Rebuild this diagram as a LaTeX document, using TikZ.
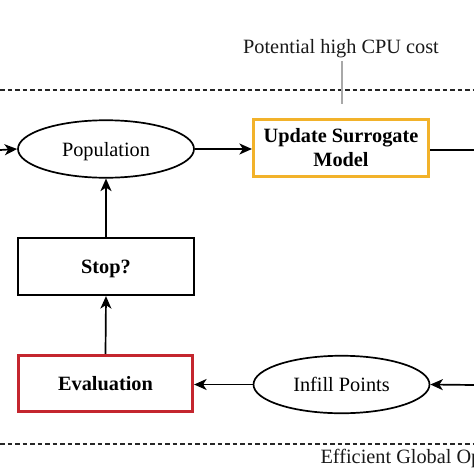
\documentclass[tikz,border=0pt]{standalone}
\usepackage{fontspec}
\setmainfont{Liberation Serif}
\usetikzlibrary{shapes.geometric,arrows.meta}
\definecolor{gold}{HTML}{F2B22A}
\definecolor{evred}{HTML}{C4262E}
\definecolor{tickgrey}{HTML}{A8A8A8}
\begin{document}
\begin{tikzpicture}[x=1pt,y=-1pt,
  every node/.style={font=\fontsize{20.3}{24}\selectfont},
  conn/.style={line width=1.7pt},
  arr/.style={conn,-{Stealth[length=12.5pt,width=11pt,inset=3.5pt]}},
  oneline/.style={text height=14pt,text depth=0pt},
  ell/.style={draw,ellipse,line width=1.7pt,inner sep=0pt,minimum width=176pt,minimum height=57.5pt,oneline},
  boxbase/.style={draw,rectangle,inner sep=0pt,align=center,font=\fontsize{20.3}{24}\selectfont\bfseries},
  plainbox/.style={boxbase,line width=1.7pt,minimum width=176.5pt,minimum height=57.5pt,oneline},
  goldbox/.style={boxbase,draw=gold,line width=3.2pt,minimum width=175pt,minimum height=57pt},
  redbox/.style={boxbase,draw=evred,line width=3.2pt,minimum width=174pt,minimum height=56pt,oneline},
  dash line/.style={line width=1.3pt,dash pattern=on 4.5pt off 3pt,draw=black!85},
]
\useasboundingbox (0,0) rectangle (474,474);
\clip (0,0) rectangle (474,474);

% dashed boundaries
\coordinate (d1l) at (0,90);
\coordinate (d1r) at (474,90);
\coordinate (d2l) at (0,444);
\coordinate (d2r) at (474,444);
\draw[dash line] (d1l) -- (d1r);
\draw[dash line] (d2l) -- (d2r);

% labels
\node[anchor=base,text=black!90] (cpu) at (341,53) {Potential high CPU cost};
\coordinate (cputick) at (342,104);
\draw[draw=tickgrey,line width=1.4pt] (342,61) -- (cputick);
\node[anchor=base west,text=black!90] (ego) at (317,463) {Efficient Global Optimization};

% nodes
\node[ell] (pop) at (106,149) {Population};
\node[goldbox] (usm) at (341,148) {Update Surrogate\\Model};
\node[plainbox] (stop) at (106,266.5) {Stop?};
\node[redbox] (eval) at (105.5,383.5) {Evaluation};
\node[ell] (infill) at (341.5,384.5) {Infill Points};

% free ends
\coordinate (inL) at (0,150);
\coordinate (outR) at (474,150);
\coordinate (inR) at (474,385);

% connectors
\draw[arr] (inL) -- (pop.west);
\draw[arr] (pop.east) -- (pop.east -| usm.west);
\draw[conn] (usm.east |- outR) -- (outR);
\draw[arr] (stop.north) -- (pop.south);
\draw[arr] (eval.north) -- (stop.south);
\draw[arr] (infill.west) -- (infill.west -| eval.east);
\draw[arr] (inR) -- (infill.east);
\end{tikzpicture}
\end{document}
